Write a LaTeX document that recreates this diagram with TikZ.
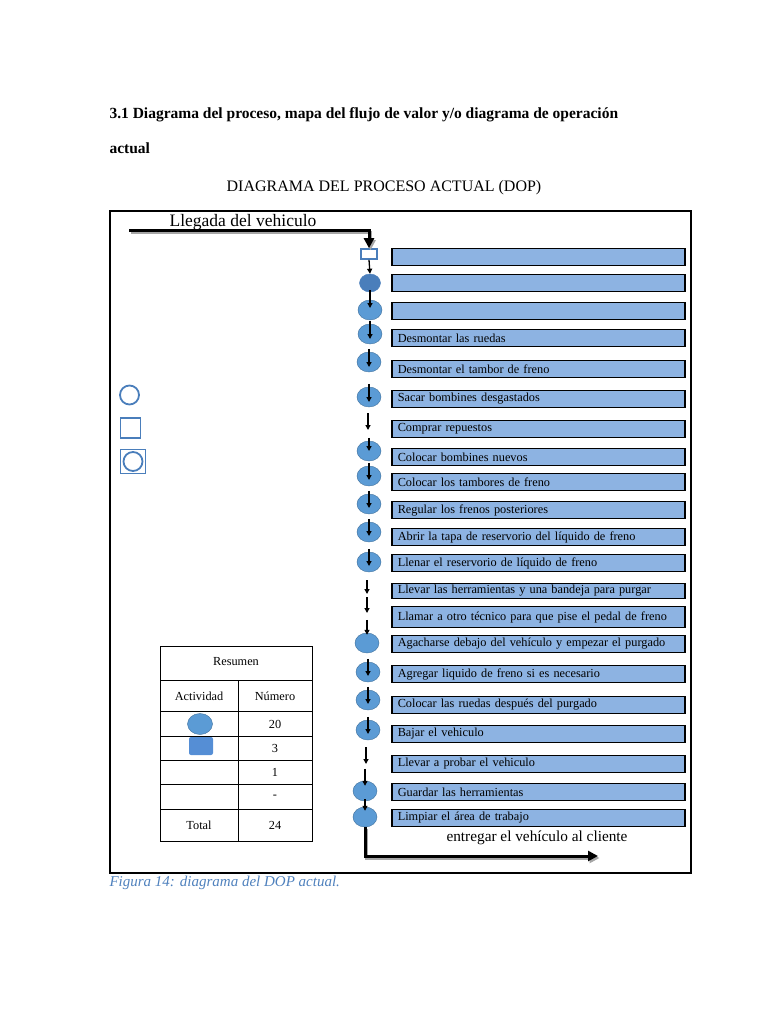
\documentclass[tikz,border=0pt]{standalone}
\usepackage{fontspec}
\setmainfont{Liberation Serif}
\usetikzlibrary{positioning,arrows.meta,shapes.geometric}

\definecolor{cajaazul}{HTML}{8DB3E2}
\definecolor{opazul}{HTML}{5B9BD5}
\definecolor{opborde}{HTML}{41719C}
\definecolor{oposcuro}{HTML}{4A7EBB}
\definecolor{leyenda}{HTML}{4A7EBB}
\definecolor{tabazul}{HTML}{558ED5}
\definecolor{pie}{HTML}{4F81BD}

\begin{document}
\begin{tikzpicture}[
  x=1pt, y=-1pt,
  caja/.style={draw=black, line width=1.5pt, fill=cajaazul, anchor=west, minimum width=293pt, minimum height=17pt, inner xsep=6pt, inner ysep=0pt, text width=281pt, align=left, font=\fontsize{12.3}{13}\selectfont},
  oper/.style={ellipse, draw=opborde, fill=opazul, minimum width=24pt, minimum height=20pt, inner sep=0pt},
  leyc/.style={circle, draw=leyenda, line width=1.8pt, minimum size=19pt, inner sep=0pt},
  flecha/.style={-{Triangle[length=5pt, width=5pt]}, line width=1.3pt},
  grueso/.style={-{Triangle[length=10pt, width=10pt]}, line width=3pt,
    preaction={draw=black!35, line width=3pt, transform canvas={shift={(1.5pt,-2pt)}}}},
  tabla/.style={font=\fontsize{12.3}{14}\selectfont}
]
\useasboundingbox (0,0) rectangle (768,1024);

% encabezado
\node[anchor=west, font=\bfseries\fontsize{15.5}{17}\selectfont] (tit) at (106,115) {3.1 Diagrama del proceso, mapa del flujo de valor y/o diagrama de operación};
\node[anchor=west, font=\bfseries\fontsize{15.5}{17}\selectfont] (tit2) at (106,148) {actual};
\node[font=\fontsize{16}{18}\selectfont] (dop) at (384,188) {DIAGRAMA DEL PROCESO ACTUAL (DOP)};

% marco
\draw[line width=2pt] (110,211) rectangle (691,873);

% actividades
\node[caja, minimum width=290pt] (b1) at (391,257) {};
\node[caja] (b2) at (391,283) {};
\node[caja] (b3) at (391,311) {};
\node[caja] (b4) at (391,338) {Desmontar las ruedas};
\node[caja] (b5) at (391,369) {Desmontar el tambor de freno};
\node[caja] (b6) at (391,399) {Sacar bombines desgastados};
\node[caja] (b7) at (391,429) {Comprar repuestos};
\node[caja] (b8) at (391,457) {Colocar bombines nuevos};
\node[caja] (b9) at (391,482) {Colocar los tambores de freno};
\node[caja] (b10) at (391,510) {Regular los frenos posteriores};
\node[caja] (b11) at (391,537) {Abrir la tapa de reservorio del líquido de freno};
\node[caja] (b12) at (391,563) {Llenar el reservorio de líquido de freno};
\node[caja, minimum width=291pt, minimum height=15pt] (b13) at (391,591) {Llevar las herramientas y una bandeja para purgar};
\node[caja, minimum height=21pt] (b14) at (391,617) {Llamar a otro técnico para que pise el pedal de freno};
\node[caja] (b15) at (391,644) {Agacharse debajo del vehículo y empezar el purgado};
\node[caja] (b16) at (391,674) {Agregar liquido de freno si es necesario};
\node[caja] (b17) at (391,705) {Colocar las ruedas después del purgado};
\node[caja] (b18) at (391,734) {Bajar el vehiculo};
\node[caja] (b19) at (391,764) {Llevar a probar el vehiculo};
\node[caja] (b20) at (391,792) {Guardar las herramientas};
\node[caja] (b21) at (391,818) {Limpiar el área de trabajo};

% simbolos
\node[draw=oposcuro, fill=white, line width=1.6pt, minimum width=16pt, minimum height=10pt, inner sep=0pt] (s1) at (369,254) {};
\node[oper, fill=oposcuro, draw=oposcuro, minimum width=21pt, minimum height=18pt] (s2) at (370,283) {};
\node[oper] (s3) at (370,310) {};
\node[oper] (s4) at (370,334) {};
\node[oper] (s5) at (369,362) {};
\node[oper] (s6) at (369,397) {};
\node[oper] (s8) at (369,451) {};
\node[oper] (s9) at (369,476) {};
\node[oper] (s10) at (369,504) {};
\node[oper] (s11) at (369,532) {};
\node[oper] (s12) at (369,562) {};
\node[oper] (s15) at (367,643) {};
\node[oper] (s16) at (368,672) {};
\node[oper] (s17) at (368,700) {};
\node[oper] (s18) at (368,730) {};
\node[oper] (s20) at (365,791) {};
\node[oper] (s21) at (365,817) {};

\coordinate (a7a) at (368,413);
\coordinate (a7b) at (368,430);
\coordinate (a13a) at (367,580);
\coordinate (a13b) at (367,594);
\coordinate (a14a) at (367,597);
\coordinate (a14b) at (367,613);
\coordinate (a19a) at (366,747);
\coordinate (a19b) at (366,764);

% flechas
\draw[flecha] (s1.south) -- (s2.north);
\draw[flecha] ([yshift=2pt]s2.south) -- ([yshift=2pt]s3.center);
\draw[flecha] ([yshift=3pt]s4.north) -- ([yshift=-5pt]s4.center);
\draw[flecha] ([yshift=3pt]s5.north) -- ([yshift=-5pt]s5.center);
\draw[flecha] ([yshift=3pt]s6.north) -- ([yshift=-5pt]s6.center);
\draw[flecha] (a7a) -- (a7b);
\draw[flecha] ([yshift=3pt]s8.north) -- ([yshift=0pt]s8.center);
\draw[flecha] ([yshift=3pt]s9.north) -- ([yshift=-4pt]s9.center);
\draw[flecha] ([yshift=3pt]s10.north) -- ([yshift=-4pt]s10.center);
\draw[flecha] ([yshift=3pt]s11.north) -- ([yshift=-4pt]s11.center);
\draw[flecha] ([yshift=3pt]s12.north) -- ([yshift=-4pt]s12.center);
\draw[flecha] (a13a) -- (a13b);
\draw[flecha] (a14a) -- (a14b);
\draw[flecha] ([yshift=13pt]s15.north) -- ([yshift=-2pt]s15.north);
\draw[flecha] ([yshift=3pt]s16.north) -- ([yshift=-4pt]s16.center);
\draw[flecha] ([yshift=3pt]s17.north) -- ([yshift=-4pt]s17.center);
\draw[flecha] ([yshift=3pt]s18.north) -- ([yshift=-4pt]s18.center);
\draw[flecha] (a19a) -- (a19b);
\draw[flecha] ([yshift=12pt]s20.north) -- ([yshift=-5pt]s20.north);
\draw[flecha] ([yshift=2pt]s20.south) -- ([yshift=-4pt]s21.north);

% llegada y entrega
\node[font=\fontsize{17.5}{19}\selectfont] (llegada) at (243,222) {Llegada del vehiculo};
\coordinate (inicio) at (129,231);
\draw[grueso] (inicio) -| (s1.north);
\node[font=\fontsize{15.3}{17}\selectfont] (entrega) at (537,838) {entregar el vehículo al cliente};
\coordinate (fin) at (598,856);
\draw[grueso] (s21.south) |- (fin);

% leyenda
\node[leyc] (lc) at (129.5,395) {};
\node[draw=leyenda, line width=1.8pt, minimum size=20pt, inner sep=0pt] (lr) at (130.5,428) {};
\node[draw=leyenda, line width=1.8pt, minimum width=25pt, minimum height=24pt, inner sep=0pt] (lrc) at (133,461.5) {};
\node[leyc, minimum size=19pt] (lrci) at (133,461.5) {};

% resumen
\draw[line width=1pt] (160,646) rectangle (312,841);
\draw[line width=1pt] (160,680) -- (312,680);
\draw[line width=1pt] (160,711) -- (312,711);
\draw[line width=1pt] (160,736) -- (312,736);
\draw[line width=1pt] (160,760) -- (312,760);
\draw[line width=1pt] (160,784) -- (312,784);
\draw[line width=1pt] (160,809) -- (312,809);
\draw[line width=1pt] (238,680) -- (238,841);
\node[tabla] (res) at (236,662) {Resumen};
\node[tabla] (act) at (199,696) {Actividad};
\node[tabla] (num) at (275,696) {Número};
\node[ellipse, fill=opazul, draw=opborde, minimum width=25pt, minimum height=21pt, inner sep=0pt] (t1) at (200,724) {};
\node[fill=tabazul, rounded corners=2pt, minimum width=24pt, minimum height=18pt, inner sep=0pt] (t2) at (201,746) {};
\node[tabla] (n1) at (275,724) {20};
\node[tabla] (n2) at (275,748) {3};
\node[tabla] (n3) at (275,772) {1};
\node[tabla] (n4) at (275,797) {-};
\node[tabla] (tot) at (199,825) {Total};
\node[tabla] (ntot) at (275,825) {24};

% pie
\node[anchor=west, text=pie, font=\itshape\fontsize{15}{17}\selectfont] (fig) at (106,883) {Figura 14: diagrama del DOP actual.};
\end{tikzpicture}
\end{document}
